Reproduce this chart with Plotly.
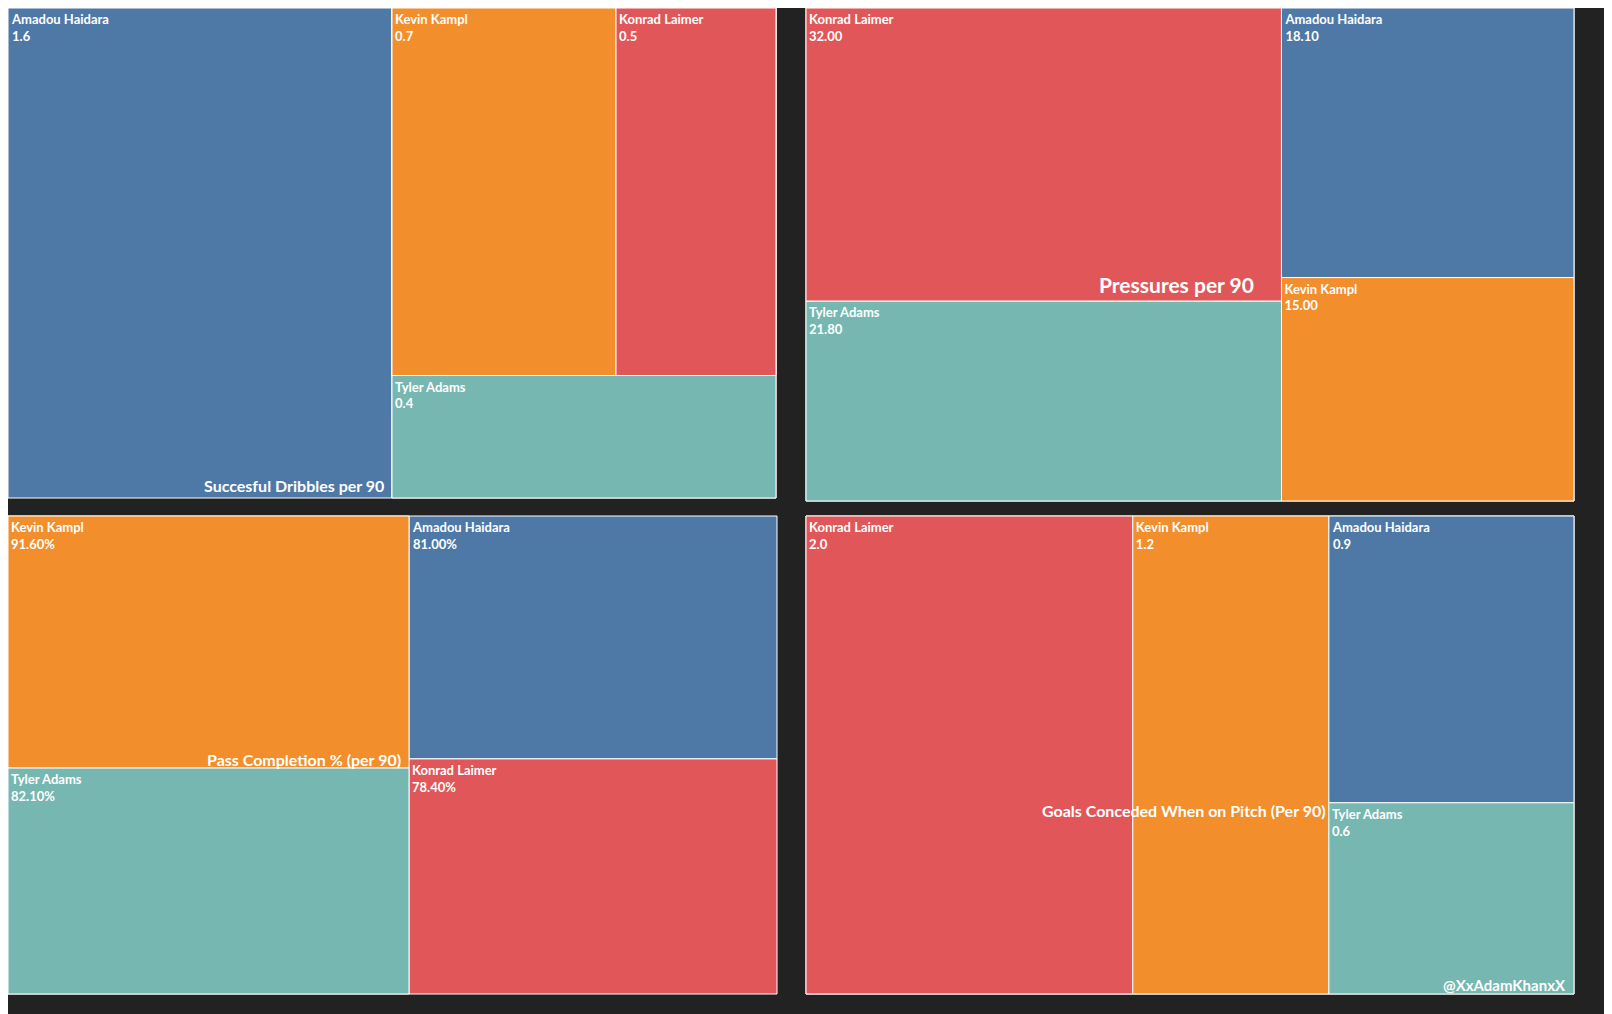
import plotly.graph_objects as go

players_dr = ["Amadou Haidara", "Kevin Kampl", "Konrad Laimer", "Tyler Adams"]
dribbles = [1.6, 0.7, 0.5, 0.4]
players_pr = ["Konrad Laimer", "Tyler Adams", "Amadou Haidara", "Kevin Kampl"]
pressures = [32.00, 21.80, 18.10, 15.00]
players_pc = ["Kevin Kampl", "Tyler Adams", "Amadou Haidara", "Konrad Laimer"]
pass_pct = [91.6, 82.1, 81.0, 78.4]
players_gc = ["Konrad Laimer", "Kevin Kampl", "Amadou Haidara", "Tyler Adams"]
goals_conc = [2.0, 1.2, 0.9, 0.6]

colors = {"Amadou Haidara": "#4E79A7", "Kevin Kampl": "#F28E2B",
          "Konrad Laimer": "#E15759", "Tyler Adams": "#76B7B2"}
W, H = 1612, 1014

def dom(x0, x1, y0, y1):
    return dict(x=[x0 / W, x1 / W], y=[1 - y1 / H, 1 - y0 / H])

# group structure (layout grouping only): player -> parent group
structures = [
    {"Amadou Haidara": "", "G": "", "H": "G", "Kevin Kampl": "H", "Konrad Laimer": "H", "Tyler Adams": "G"},
    {"A": "", "B": "", "Konrad Laimer": "A", "Tyler Adams": "A", "Amadou Haidara": "B", "Kevin Kampl": "B"},
    {"A": "", "Kevin Kampl": "A", "Tyler Adams": "A", "Amadou Haidara": "", "Konrad Laimer": ""},
    {"A": "", "B": "", "Konrad Laimer": "A", "Kevin Kampl": "A", "Amadou Haidara": "B", "Tyler Adams": "B"},
]

fig = go.Figure()
specs = [
    (players_dr, dribbles, "%{value:.1f}", dom(0, 768, 0, 490)),
    (players_pr, pressures, "%{value:.2f}", dom(798, 1566, 0, 493)),
    (players_pc, pass_pct, "%{value:.2f}%", dom(0, 769, 508, 986)),
    (players_gc, goals_conc, "%{value:.1f}", dom(798, 1566, 508, 986)),
]
for (labels, vals, fmt, d), struct in zip(specs, structures):
    valmap = dict(zip(labels, vals))
    def total(n):
        if n in valmap:
            return valmap[n]
        return sum(total(c) for c, p in struct.items() if p == n)
    ids = list(struct.keys())
    parents = [struct[i] for i in ids]
    values = [total(i) for i in ids]
    cols = [colors.get(i, "#222222") for i in ids]
    texts = [("<b>%{label}</b><br><b>" + fmt + "</b>") if i in valmap else "" for i in ids]
    fig.add_trace(go.Treemap(
        ids=ids, labels=ids, parents=parents, values=values, branchvalues="total",
        sort=True, domain=d,
        marker=dict(colors=cols, line=dict(color="white", width=1), pad=dict(t=0, l=0, r=0, b=0)),
        texttemplate=texts,
        textposition="top left",
        textfont=dict(family="Lato", size=13, color="white"),
        tiling=dict(pad=0), pathbar=dict(visible=False), hoverinfo="label+value",
    ))

def title(text, x, y, size=16):
    fig.add_annotation(text=f"<b>{text}</b>", x=x / W, y=1 - y / H, xref="paper", yref="paper",
                       xanchor="right", yanchor="middle", showarrow=False,
                       font=dict(family="Lato", size=size, color="white"))

title("Succesful Dribbles per 90", 378, 478)
title("Pressures per 90", 1248, 276, 21)
title("Pass Completion % (per 90)", 395, 751)
title("Goals Conceded When on Pitch (Per 90)", 1320, 802)
title("@XxAdamKhanxX", 1560, 977, 15)

fig.update_layout(width=W, height=H, margin=dict(l=0, r=0, t=0, b=0),
                  paper_bgcolor="#222222", showlegend=False)
fig.write_html("out.html")
